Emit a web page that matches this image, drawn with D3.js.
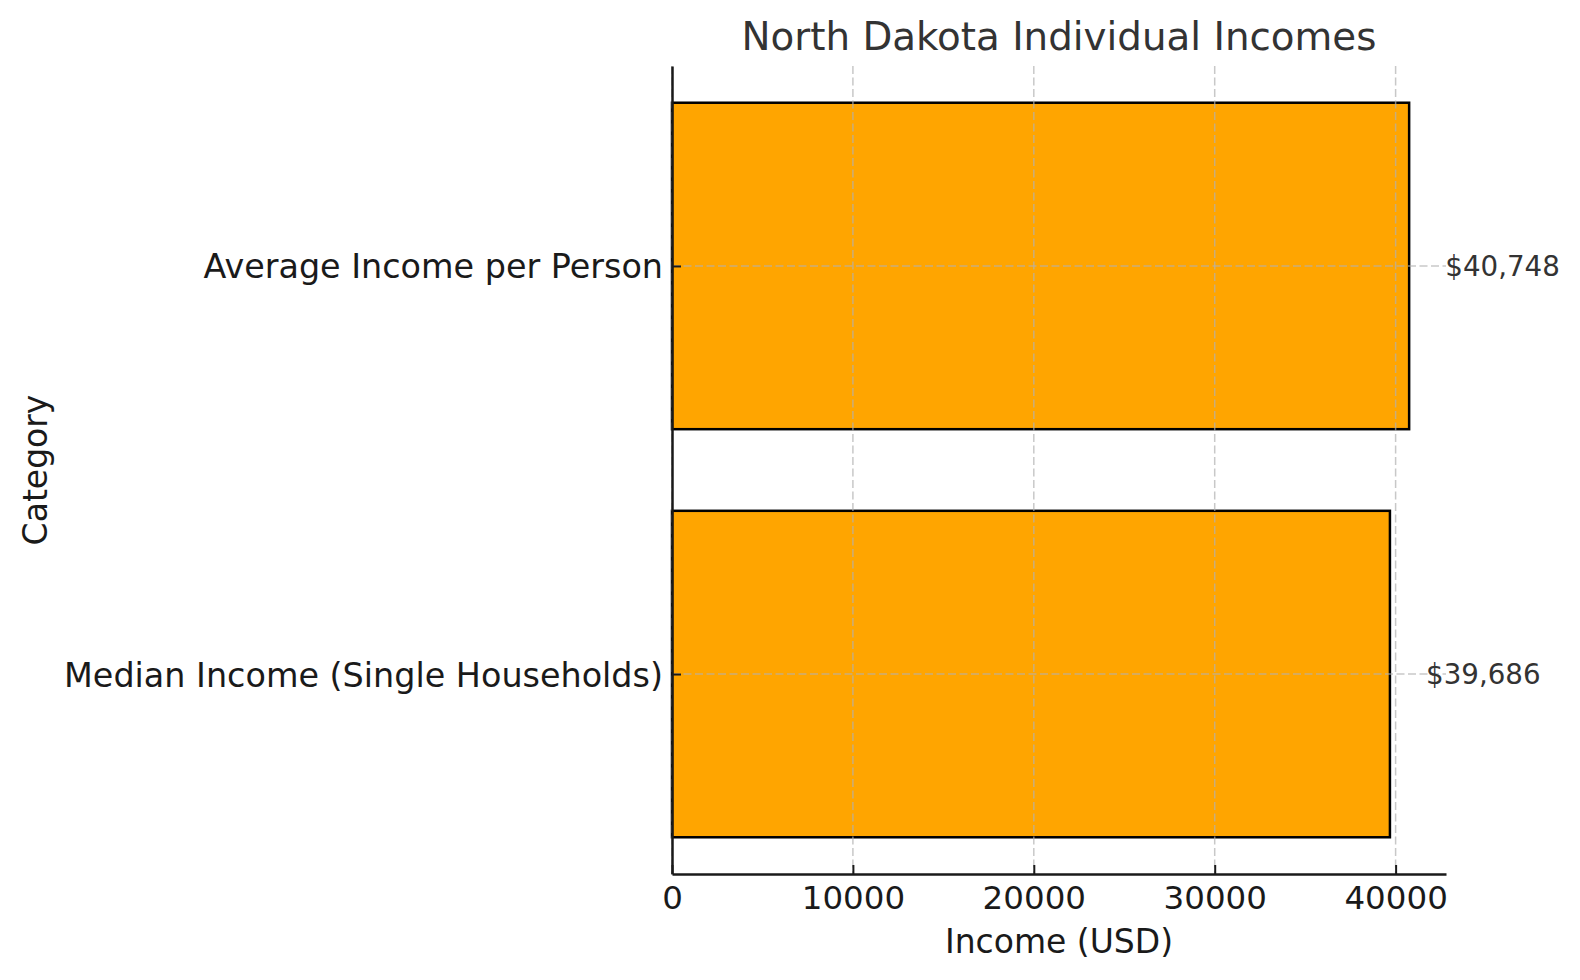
<!DOCTYPE html>
<html>
<head>
<meta charset="utf-8">
<script src="https://cdn.jsdelivr.net/npm/d3@7"></script>
<style>
  html, body { margin: 0; padding: 0; background: #fff; }
  svg { display: block; font-family: "DejaVu Sans", sans-serif; }
</style>
</head>
<body>
<svg id="chart" width="1580" height="980"></svg>
<script>
const categories = ["Median Income (Single Households)", "Average Income per Person"];
const values = [39686, 40748];
const valueLabels = ["$39,686", "$40,748"];
const xTicks = [0, 10000, 20000, 30000, 40000];
const titleText = "North Dakota Individual Incomes";
const xLabelText = "Income (USD)";
const yLabelText = "Category";

(function () {
const svg = d3.select("#chart");
const pL = 672, pR = 1446, pT = 66, pB = 874;
const maxV = d3.max(values);
const x = d3.scaleLinear().domain([0, maxV * 1.05]).range([pL, pR]);
const y = d3.scaleLinear().domain([-0.49, categories.length - 1 + 0.49]).range([pB, pT]);
const barH = y(0) - y(0.8);

// bars
svg.append("g").selectAll("rect").data(values).join("rect")
  .attr("x", x(0))
  .attr("y", (d, i) => y(i + 0.4))
  .attr("width", d => x(d) - x(0))
  .attr("height", barH)
  .attr("fill", "#FFA500")
  .attr("stroke", "#000")
  .attr("stroke-width", 2.5);

// grid (drawn above bars as in matplotlib)
const grid = svg.append("g").attr("stroke", "#b0b0b0").attr("stroke-opacity", 0.7)
  .attr("stroke-width", 1.5).attr("stroke-dasharray", "8,3.5");
grid.selectAll("line.v").data(xTicks).join("line").attr("class", "v")
  .attr("x1", d => x(d)).attr("x2", d => x(d)).attr("y1", pT).attr("y2", pB);
grid.selectAll("line.h").data(categories).join("line").attr("class", "h")
  .attr("x1", pL).attr("x2", pR).attr("y1", (d, i) => y(i)).attr("y2", (d, i) => y(i));

// x axis
const xAxis = d3.axisBottom(x).tickValues(xTicks).tickFormat(d3.format("d"))
  .tickSizeInner(-9).tickSizeOuter(0).tickPadding(20);
const gx = svg.append("g").attr("transform", `translate(0,${pB})`).call(xAxis);
gx.select(".domain").attr("stroke", "#1a1a1a").attr("stroke-width", 2.5);
gx.selectAll(".tick line").attr("stroke", "#1a1a1a").attr("stroke-width", 2);
gx.selectAll(".tick text").attr("font-size", 32.5).attr("fill", "#1a1a1a")
  .attr("font-family", "DejaVu Sans").attr("dy", null).attr("y", 35);

// y axis
const yAxis = d3.axisLeft(y).tickValues(d3.range(categories.length)).tickFormat(i => categories[i])
  .tickSizeInner(-9).tickSizeOuter(0).tickPadding(16);
const gy = svg.append("g").attr("transform", `translate(${pL},0)`).call(yAxis);
gy.select(".domain").attr("stroke", "#1a1a1a").attr("stroke-width", 2.5);
gy.selectAll(".tick line").attr("stroke", "#1a1a1a").attr("stroke-width", 2);
gy.selectAll(".tick text").attr("font-size", 33.4).attr("fill", "#1a1a1a")
  .attr("font-family", "DejaVu Sans").attr("x", -9).attr("dy", "0.36em");

// value labels
svg.append("g").selectAll("text").data(values).join("text")
  .attr("x", d => x(d + 2000))
  .attr("y", (d, i) => y(i))
  .attr("dy", "0.36em")
  .attr("font-size", 27.7)
  .attr("fill", "#333")
  .text((d, i) => valueLabels[i]);

// title
svg.append("text").attr("x", (pL + pR) / 2).attr("y", 50)
  .attr("text-anchor", "middle").attr("font-size", 38.8).attr("fill", "#333")
  .text(titleText);

// axis labels
svg.append("text").attr("x", (pL + pR) / 2).attr("y", 953)
  .attr("text-anchor", "middle").attr("font-size", 33).attr("fill", "#1a1a1a")
  .text(xLabelText);
svg.append("text").attr("transform", `translate(47,${(pT + pB) / 2}) rotate(-90)`)
  .attr("text-anchor", "middle").attr("font-size", 33).attr("fill", "#1a1a1a")
  .text(yLabelText);
})();
</script>
</body>
</html>
